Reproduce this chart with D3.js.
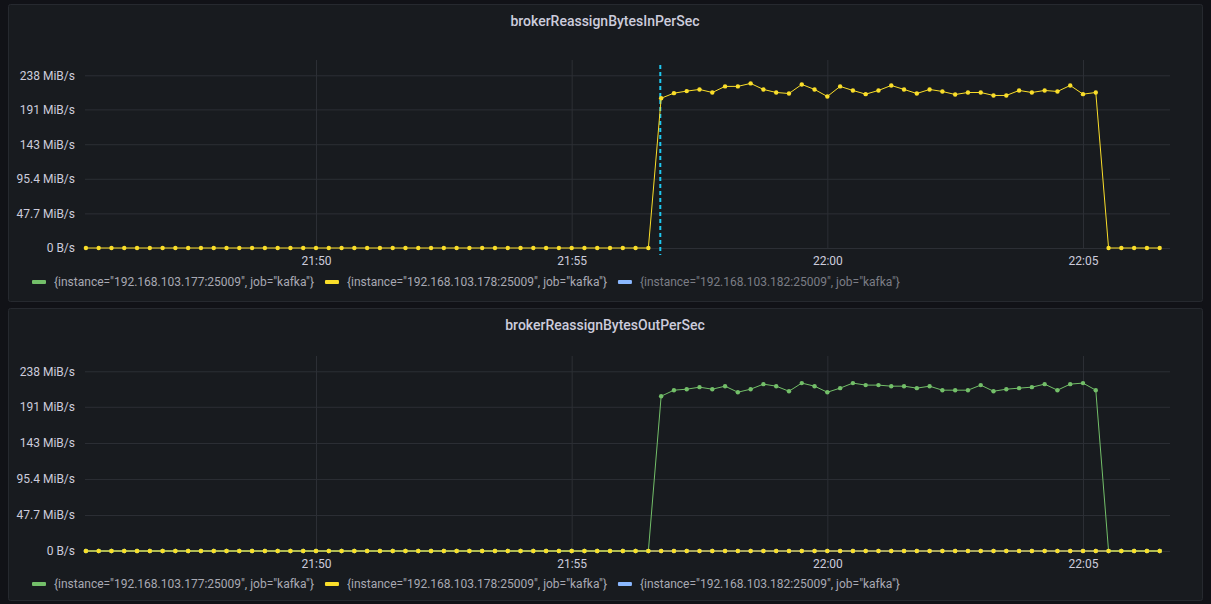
<!DOCTYPE html>
<html><head><meta charset="utf-8">
<script src="https://cdn.jsdelivr.net/npm/d3@7"></script>
<style>
body{margin:0;background:#111217;font-family:Roboto,sans-serif;}
</style></head><body>
<svg id="chart" width="1211" height="604"></svg>
<script>
// values in MiB/s, one point every 15s starting 21:45:30
var nPoints = 85;
var startIdx = 45;
var bytesIn178 = [206.4,213.4,216.2,218.5,214.3,222.7,222.7,226.8,218.5,214.3,212.9,225.4,218.5,208.8,222.7,217.1,212.0,217.1,224.0,218.5,212.9,218.5,215.7,211.5,214.3,214.3,210.2,210.2,217.1,214.3,217.1,215.7,224.0,212.0,214.3];
var bytesOut177 = [205.0,213.0,214.3,217.0,214.3,218.3,210.3,214.3,221.0,218.3,211.6,222.4,218.3,210.3,215.7,222.4,219.7,219.7,218.3,218.3,215.7,218.3,213.0,213.0,213.0,219.7,211.6,214.3,215.7,217.0,221.0,213.0,221.0,222.4,213.0];
var yTicks = [0,47.7,95.4,143,191,238];
var yTickLabels = ["0 B/s","47.7 MiB/s","95.4 MiB/s","143 MiB/s","191 MiB/s","238 MiB/s"];
var instances = ["192.168.103.177:25009","192.168.103.178:25009","192.168.103.182:25009"];
var colors = ["#73bf69","#fade2a","#8ab8ff"];

function series(vals){
  var out = [];
  for (var i=0;i<nPoints;i++){
    var v = (i>=startIdx && i<startIdx+vals.length) ? vals[i-startIdx] : 0;
    out.push(v);
  }
  return out;
}
var zeros = series([]);
var t0 = new Date(2024,0,1,21,45,30);
function tAt(i){ return new Date(t0.getTime()+i*15000); }

var svg = d3.select("#chart");
var x = d3.scaleTime().domain([new Date(2024,0,1,21,50), new Date(2024,0,1,22,5)]).range([316,1083]);

function panel(top, h, yRange, legendY, title, data, drawOrder, marker){
  var g = svg.append("g").attr("transform","translate(0,"+top+")");
  g.append("rect").attr("x",8.5).attr("y",0.5).attr("width",1194).attr("height",h).attr("rx",2)
    .attr("fill","#181b1f").attr("stroke","#26292f");
  g.append("text").attr("x",605).attr("y",22).attr("text-anchor","middle")
    .attr("fill","#ccccdc").attr("font-size",14).attr("font-weight",500).text(title);
  var y = d3.scaleLinear().domain([0,238.4]).range(yRange);
  var ya = g.append("g").attr("transform","translate(85,0)")
    .call(d3.axisLeft(y).tickValues(yTicks).tickFormat(function(d,i){return yTickLabels[i];}).tickSize(-1085).tickPadding(10));
  ya.select(".domain").remove();
  ya.selectAll("line").attr("stroke","#2c2f35");
  ya.selectAll("text").attr("fill","#ccccdc").attr("font-size",12).attr("font-family","Roboto");
  var xa = g.append("g").attr("transform","translate(0,"+yRange[0]+")")
    .call(d3.axisBottom(x).ticks(d3.timeMinute.every(5)).tickFormat(d3.timeFormat("%H:%M")).tickSize(-(yRange[0]-yRange[1]+15)).tickPadding(8));
  xa.select(".domain").remove();
  xa.selectAll("line").attr("stroke","#2c2f35");
  xa.selectAll("text").attr("fill","#ccccdc").attr("font-size",12).attr("font-family","Roboto");
  if (marker){
    g.append("line").attr("x1",x(marker)).attr("x2",x(marker)).attr("y1",61).attr("y2",251)
      .attr("stroke","#1fc8f0").attr("stroke-width",2).attr("stroke-dasharray","4,3");
  }
  var line = d3.line().x(function(d,i){return x(tAt(i));}).y(function(d){return y(d);});
  drawOrder.forEach(function(k){
    g.append("path").datum(data[k]).attr("d",line).attr("fill","none").attr("stroke",colors[k]).attr("stroke-width",1);
    g.selectAll(null).data(data[k]).enter().append("circle")
      .attr("cx",function(d,i){return x(tAt(i));}).attr("cy",function(d){return y(d);})
      .attr("r",2.2).attr("fill",colors[k]);
  });
  // legend
  var lx = 32;
  instances.forEach(function(inst,k){
    g.append("rect").attr("x",lx).attr("y",legendY-6).attr("width",14).attr("height",4).attr("rx",1).attr("fill",colors[k]);
    var t = g.append("text").attr("x",lx+22).attr("y",legendY).attr("fill", k==2 && top<100 ? "#7b7d85" : "#a8a9b3")
      .attr("font-size",12).text('{instance="'+inst+'", job="kafka"}');
    lx += 22 + t.node().getComputedTextLength() + 11;
  });
}

panel(4, 297, [244,71], 282, "brokerReassignBytesInPerSec", [null, series(bytesIn178), null], [1], new Date(2024,0,1,21,56,44));
panel(308, 292, [243,63], 280, "brokerReassignBytesOutPerSec", [series(bytesOut177), zeros, zeros], [2,0,1], null);
</script>
</body></html>
